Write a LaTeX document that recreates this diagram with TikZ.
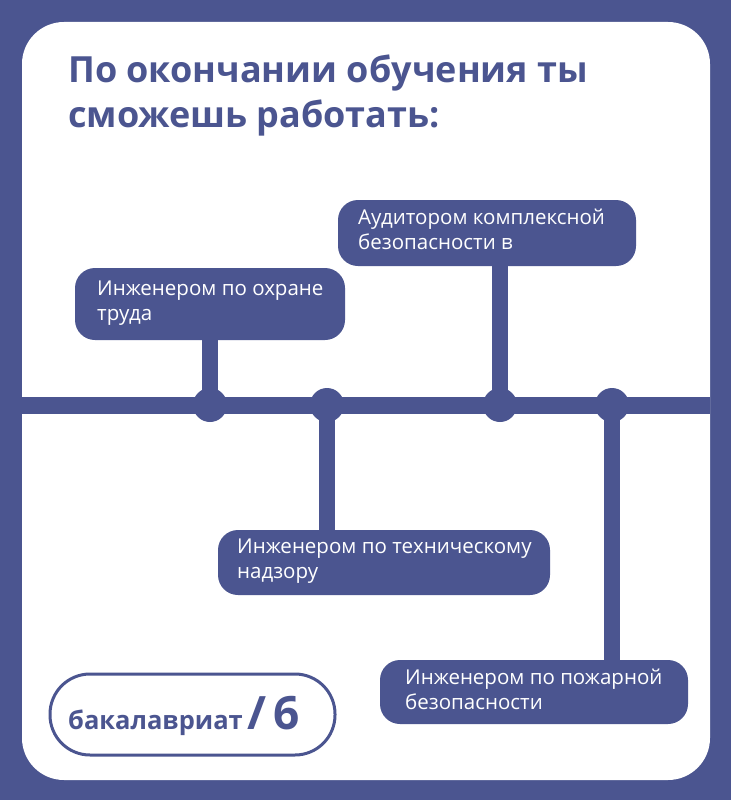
\documentclass[tikz,border=0pt]{standalone}
\usepackage{fontspec}
\setmainfont{Open Sans}
\definecolor{navy}{HTML}{4B5590}
\tikzset{
 jobtext/.style={text=white,align=left,anchor=north west,inner sep=0pt,font=\fontsize{20.5}{25}\selectfont},
 stem/.style={navy,line width=16pt},
 dot/.style={circle,fill=navy,minimum size=34pt,inner sep=0pt}
}
\begin{document}
\begin{tikzpicture}[x=1pt,y=-1pt]
\fill[navy] (0,0) rectangle (731,800);
\fill[white,rounded corners=42pt] (22,22) rectangle (710,780);
\useasboundingbox (0,0) rectangle (731,800);
\node[anchor=north west,text=navy,font=\bfseries\fontsize{36}{45}\selectfont,align=left,inner sep=0pt] (title) at (68,55) {По окончании обучения ты\\сможешь работать:};
% boxes
\fill[navy,rounded corners=20pt] (75,268) rectangle (345,340);
\node[jobtext] (b1) at (97,281) {Инженером по охране\\труда};
\fill[navy,rounded corners=20pt] (338,200) rectangle (636,266);
\node[jobtext] (b2) at (358,209) {Аудитором комплексной\\безопасности в};
\fill[navy,rounded corners=20pt] (218,530) rectangle (550,595);
\node[jobtext] (b3) at (237,539) {Инженером по техническому\\надзору};
\fill[navy,rounded corners=20pt] (380,660) rectangle (688,724);
\node[jobtext] (b4) at (405,669) {Инженером по пожарной\\безопасности};
% line
\fill[navy] (22,397) rectangle (710,414);
\coordinate (d1) at (210,405);
\coordinate (d2) at (327,405);
\coordinate (d3) at (500,405);
\coordinate (d4) at (612,405);
\draw[stem] (d1) -- (210,338);
\draw[stem] (d3) -- (500,264);
\draw[stem] (d2) -- (327,532);
\draw[stem] (d4) -- (612,662);
\foreach \d in {d1,d2,d3,d4} \node[dot] at (\d) {};
% pill
\draw[navy,line width=3pt,fill=white,rounded corners=40pt] (50,674) rectangle (335,755);
\node[anchor=west,text=navy,inner sep=0pt] (pill) at (68,716) {\bfseries\fontsize{25.5}{30}\selectfont бакалавриат\,\fontsize{46}{46}\selectfont/\,6};
\end{tikzpicture}
\end{document}
